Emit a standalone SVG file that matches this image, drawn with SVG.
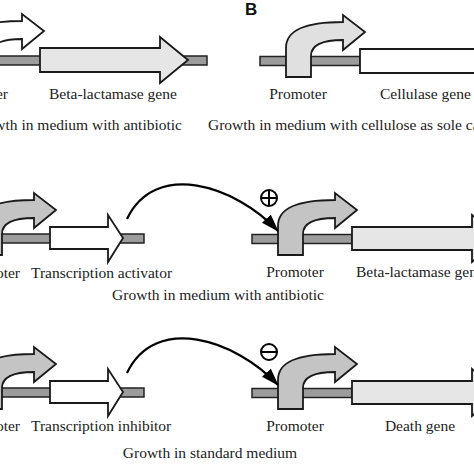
<svg xmlns="http://www.w3.org/2000/svg" width="474" height="474" viewBox="0 0 474 474">
<style>
.bar{fill:#9c9c9c;stroke:#222;stroke-width:1.5}
.gene{fill:#e6e6e6;stroke:#1a1a1a;stroke-width:1.8;stroke-linejoin:miter}
.white{fill:#fff;stroke:#1a1a1a;stroke-width:1.8}
.prom{stroke:#1a1a1a;stroke-width:1.8;stroke-linejoin:miter}
.t{font-family:"Liberation Serif","Times New Roman",serif;font-size:15.5px;fill:#222}
.c{text-anchor:middle}
.e{text-anchor:end}
.conn{fill:none;stroke:#000;stroke-width:2.2}
.sym{fill:#fff;stroke:#000;stroke-width:2}
</style>
<defs>
<path id="pr" d="M286 77 L286 48 C286 30 305 22 343 22 L343 15 L365 32 L343 50 L343 40 C322 40 311 45 311 56 L311 77 Z"/>
<marker id="ah" markerUnits="userSpaceOnUse" markerWidth="20" markerHeight="14" refX="17" refY="6" orient="auto">
<path d="M0 0 L18 6 L0 12 Z" fill="#000"/>
</marker>
</defs>
<rect width="474" height="474" fill="#fff"/>

<g id="panelA-row1">
<rect class="bar" x="-5" y="56" width="212" height="9"/>
<use href="#pr" class="prom" fill="#fff" transform="translate(-321,-1)"/>
<polygon class="gene" points="40,48 160,48 160,37 188,60 160,83 160,72 40,72"/>
<text class="t e" x="8" y="99">Promoter</text>
<text class="t" x="49" y="99">Beta-lactamase gene</text>
<text class="t e" x="182" y="130">Growth in medium with antibiotic</text>
</g>

<g id="panelB">
<text x="245" y="15" font-family="Liberation Sans, Arial, sans-serif" font-weight="bold" font-size="17" fill="#111">B</text>
<rect class="bar" x="260" y="56.5" width="100" height="9"/>
<use href="#pr" class="prom" fill="#e0e0e0"/>
<polygon class="white" points="360,49 480,49 480,73 360,73"/>
<text class="t c" x="298" y="99">Promoter</text>
<text class="t" x="380" y="99">Cellulase gene</text>
<text class="t" x="208" y="130">Growth in medium with cellulose as sole carbon source</text>
</g>

<g id="row2-left">
<rect class="bar" x="-5" y="234" width="149" height="9"/>
<use href="#pr" class="prom" fill="#c4c4c4" transform="translate(-309,178)"/>
<polygon class="white" points="50,227 108,227 108,215 123,238 108,262 108,249 50,249"/>
<text class="t e" x="20" y="278">Promoter</text>
<text class="t" x="31" y="278">Transcription activator</text>
</g>
<g id="row2-right">
<rect class="bar" x="252" y="234.5" width="100" height="9"/>
<use href="#pr" class="prom" fill="#c4c4c4" transform="translate(-8,178)"/>
<polygon class="gene" points="352,227 472,227 472,215 500,238 472,262 472,250 352,250"/>
<text class="t c" x="295" y="277">Promoter</text>
<text class="t" x="356" y="277">Beta-lactamase gene</text>
<g id="plus">
<circle class="sym" cx="269" cy="198" r="8"/>
<path d="M261 198 H277 M269 190 V206" stroke="#000" stroke-width="2"/>
</g>
</g>
<text class="t c" x="218" y="300">Growth in medium with antibiotic</text>

<g id="row3-left">
<rect class="bar" x="-5" y="388" width="149" height="9"/>
<use href="#pr" class="prom" fill="#c4c4c4" transform="translate(-309,332)"/>
<polygon class="white" points="50,381 108,381 108,369 123,392 108,416 108,403 50,403"/>
<text class="t e" x="20" y="431">Promoter</text>
<text class="t" x="31" y="431">Transcription inhibitor</text>
</g>
<g id="row3-right">
<rect class="bar" x="252" y="388.5" width="100" height="9"/>
<use href="#pr" class="prom" fill="#c4c4c4" transform="translate(-8,332)"/>
<polygon class="gene" points="352,381 472,381 472,369 500,392 472,416 472,404 352,404"/>
<text class="t c" x="295" y="431">Promoter</text>
<text class="t c" x="420" y="431">Death gene</text>
<g id="minus">
<circle class="sym" cx="269" cy="352" r="8"/>
<path d="M261 352 H277" stroke="#000" stroke-width="2"/>
</g>
</g>
<text class="t c" x="210" y="458">Growth in standard medium</text>

<g id="connectors">
<path class="conn" d="M127 219 C155 160 235 185 278 231" marker-end="url(#ah)"/>
<path class="conn" d="M127 373 C155 314 235 339 278 385" marker-end="url(#ah)"/>
</g>
</svg>
